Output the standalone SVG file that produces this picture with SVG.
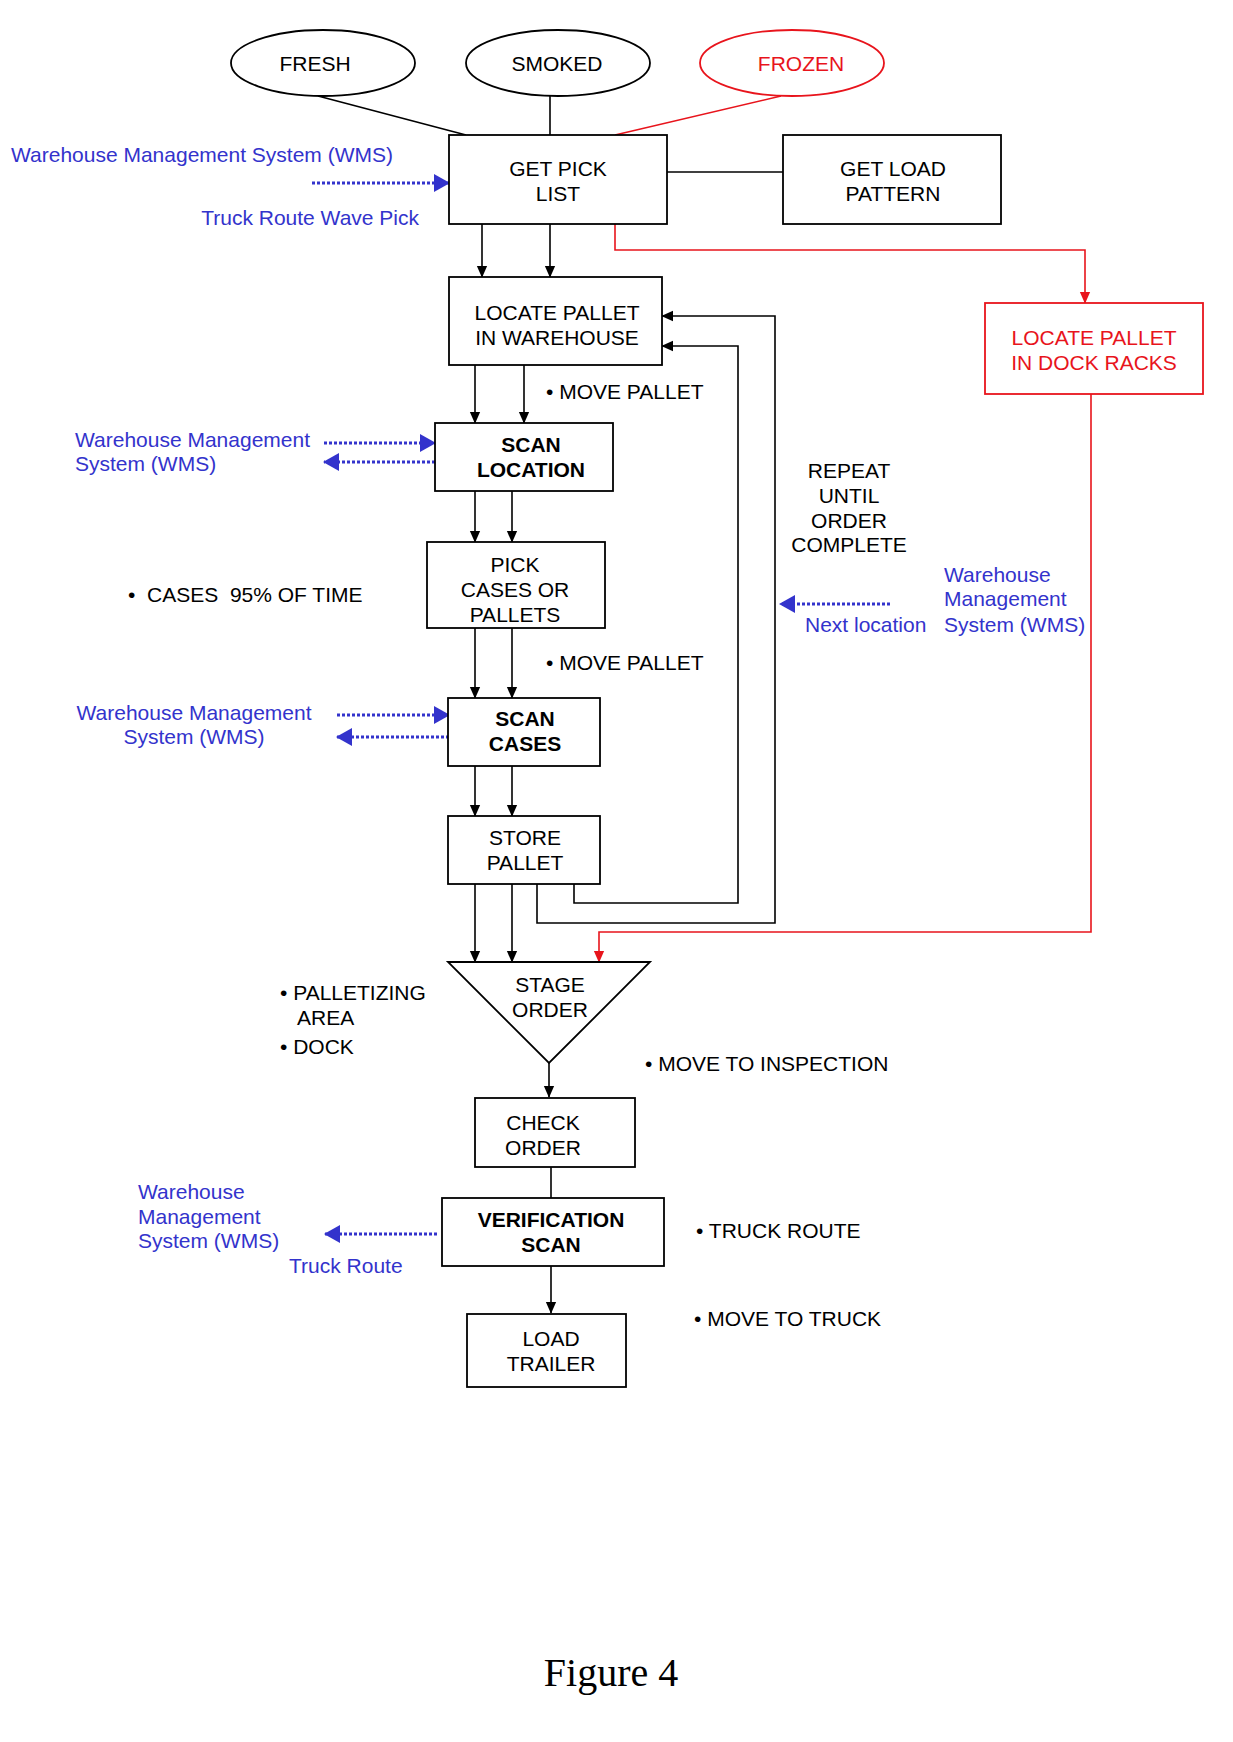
<svg xmlns="http://www.w3.org/2000/svg" width="1233" height="1742" viewBox="0 0 1233 1742">
<style>
text{font-family:"Liberation Sans",Arial,sans-serif;font-size:21px;fill:#000}
.b{font-weight:bold}
.bl{fill:#3333cc}
.rd{fill:#e8141c}
.c{text-anchor:middle}
.box{fill:#fff;stroke:#000;stroke-width:1.8}
.rbox{fill:#fff;stroke:#e8141c;stroke-width:1.8}
.ln{fill:none;stroke:#000;stroke-width:1.6}
.rl{fill:none;stroke:#e8141c;stroke-width:1.6}
.dl{fill:none;stroke:#3333cc;stroke-width:3;stroke-dasharray:3 2}
</style>
<defs>
<marker id="a" markerWidth="12" markerHeight="16" refX="15" refY="8" orient="auto" markerUnits="userSpaceOnUse" viewBox="0 0 16 16"><path d="M0,1 L16,8 L0,15 Z" fill="#000"/></marker>
<marker id="r" markerWidth="12" markerHeight="16" refX="15" refY="8" orient="auto" markerUnits="userSpaceOnUse" viewBox="0 0 16 16"><path d="M0,1 L16,8 L0,15 Z" fill="#e8141c"/></marker>
<marker id="bm" markerWidth="16" markerHeight="18" refX="15" refY="9" orient="auto" markerUnits="userSpaceOnUse" viewBox="0 0 16 18"><path d="M0,0 L16,9 L0,18 Z" fill="#3333cc"/></marker>
</defs>
<rect width="1233" height="1742" fill="#fff"/>
<g id="connectors">
<path class="ln" d="M318,96 L466,135"/>
<path class="ln" d="M550,96 L550,135"/>
<path class="rl" d="M781,96 L615,135"/>
<path class="ln" d="M667,172 L783,172"/>
<path class="ln" d="M482,224 L482,277" marker-end="url(#a)"/>
<path class="ln" d="M550,224 L550,277" marker-end="url(#a)"/>
<path class="rl" d="M615,224 L615,250 L1085,250 L1085,303" marker-end="url(#r)"/>
<path class="rl" d="M1091,394 L1091,932 L599,932 L599,962" marker-end="url(#r)"/>
<path class="ln" d="M475,365 L475,423" marker-end="url(#a)"/>
<path class="ln" d="M524,365 L524,423" marker-end="url(#a)"/>
<path class="ln" d="M475,491 L475,542" marker-end="url(#a)"/>
<path class="ln" d="M512,491 L512,542" marker-end="url(#a)"/>
<path class="ln" d="M475,628 L475,698" marker-end="url(#a)"/>
<path class="ln" d="M512,628 L512,698" marker-end="url(#a)"/>
<path class="ln" d="M475,766 L475,816" marker-end="url(#a)"/>
<path class="ln" d="M512,766 L512,816" marker-end="url(#a)"/>
<path class="ln" d="M475,884 L475,962" marker-end="url(#a)"/>
<path class="ln" d="M512,884 L512,962" marker-end="url(#a)"/>
<path class="ln" d="M574,884 L574,903 L738,903 L738,346 L662,346" marker-end="url(#a)"/>
<path class="ln" d="M537,884 L537,923 L775,923 L775,316 L662,316" marker-end="url(#a)"/>
<path class="ln" d="M549,1063 L549,1097" marker-end="url(#a)"/>
<path class="ln" d="M551,1167 L551,1198"/>
<path class="ln" d="M551,1266 L551,1313" marker-end="url(#a)"/>
<path class="dl" d="M312,183 L449,183" marker-end="url(#bm)"/>
<path class="dl" d="M324,443 L435,443" marker-end="url(#bm)"/>
<path class="dl" d="M435,462 L324,462" marker-end="url(#bm)"/>
<path class="dl" d="M337,715 L449,715" marker-end="url(#bm)"/>
<path class="dl" d="M449,737 L337,737" marker-end="url(#bm)"/>
<path class="dl" d="M890,604 L780,604" marker-end="url(#bm)"/>
<path class="dl" d="M437,1234 L325,1234" marker-end="url(#bm)"/>
</g>
<g id="fresh"><ellipse cx="323" cy="63" rx="92" ry="33" class="box"/><text x="315" y="71" class="c">FRESH</text></g>
<g id="smoked"><ellipse cx="558" cy="63" rx="92" ry="33" class="box"/><text x="557" y="71" class="c">SMOKED</text></g>
<g id="frozen"><ellipse cx="792" cy="63" rx="92" ry="33" class="rbox"/><text x="801" y="71" class="c rd">FROZEN</text></g>
<g id="getpick"><rect x="449" y="135" width="218" height="89" class="box"/><text x="558" y="176" class="c">GET PICK</text><text x="558" y="201" class="c">LIST</text></g>
<g id="getload"><rect x="783" y="135" width="218" height="89" class="box"/><text x="893" y="176" class="c">GET LOAD</text><text x="893" y="201" class="c">PATTERN</text></g>
<g id="locate"><rect x="449" y="277" width="213" height="88" class="box"/><text x="557" y="320" class="c">LOCATE PALLET</text><text x="557" y="345" class="c">IN WAREHOUSE</text></g>
<g id="dock"><rect x="985" y="303" width="218" height="91" class="rbox"/><text x="1094" y="345" class="c rd">LOCATE PALLET</text><text x="1094" y="370" class="c rd">IN DOCK RACKS</text></g>
<g id="scanloc"><rect x="435" y="423" width="178" height="68" class="box"/><text x="531" y="452" class="c b">SCAN</text><text x="531" y="477" class="c b">LOCATION</text></g>
<g id="pick"><rect x="427" y="542" width="178" height="86" class="box"/><text x="515" y="572" class="c">PICK</text><text x="515" y="597" class="c">CASES OR</text><text x="515" y="622" class="c">PALLETS</text></g>
<g id="scancases"><rect x="448" y="698" width="152" height="68" class="box"/><text x="525" y="726" class="c b">SCAN</text><text x="525" y="751" class="c b">CASES</text></g>
<g id="store"><rect x="448" y="816" width="152" height="68" class="box"/><text x="525" y="845" class="c">STORE</text><text x="525" y="870" class="c">PALLET</text></g>
<g id="stage"><path d="M448,962 L650,962 L549,1063 Z" class="box"/><text x="550" y="992" class="c">STAGE</text><text x="550" y="1017" class="c">ORDER</text></g>
<g id="check"><rect x="475" y="1098" width="160" height="69" class="box"/><text x="543" y="1130" class="c">CHECK</text><text x="543" y="1155" class="c">ORDER</text></g>
<g id="verif"><rect x="442" y="1198" width="222" height="68" class="box"/><text x="551" y="1227" class="c b">VERIFICATION</text><text x="551" y="1252" class="c b">SCAN</text></g>
<g id="load"><rect x="467" y="1314" width="159" height="73" class="box"/><text x="551" y="1346" class="c">LOAD</text><text x="551" y="1371" class="c">TRAILER</text></g>
<g id="labels">
<text x="11" y="162" class="bl">Warehouse Management System (WMS)</text>
<text x="419" y="225" class="bl" text-anchor="end">Truck Route Wave Pick</text>
<text x="75" y="447" class="bl">Warehouse Management</text>
<text x="75" y="471" class="bl">System (WMS)</text>
<text x="194" y="720" class="bl c">Warehouse Management</text>
<text x="194" y="744" class="bl c">System (WMS)</text>
<text x="805" y="632" class="bl">Next location</text>
<text x="944" y="582" class="bl">Warehouse</text>
<text x="944" y="606" class="bl">Management</text>
<text x="944" y="632" class="bl">System (WMS)</text>
<text x="138" y="1199" class="bl">Warehouse</text>
<text x="138" y="1224" class="bl">Management</text>
<text x="138" y="1248" class="bl">System (WMS)</text>
<text x="289" y="1273" class="bl">Truck Route</text>
<text x="546" y="399">• MOVE PALLET</text>
<text x="546" y="670">• MOVE PALLET</text>
<text x="128" y="602" xml:space="preserve">•  CASES  95% OF TIME</text>
<text x="849" y="478" class="c">REPEAT</text>
<text x="849" y="503" class="c">UNTIL</text>
<text x="849" y="528" class="c">ORDER</text>
<text x="849" y="552" class="c">COMPLETE</text>
<text x="280" y="1000">• PALLETIZING</text>
<text x="297" y="1025">AREA</text>
<text x="280" y="1054">• DOCK</text>
<text x="645" y="1071">• MOVE TO INSPECTION</text>
<text x="696" y="1238">• TRUCK ROUTE</text>
<text x="694" y="1326">• MOVE TO TRUCK</text>
<text x="611" y="1686" class="c" style="font-family:'Liberation Serif','Times New Roman',serif;font-size:40px">Figure 4</text>
</g>
</svg>
